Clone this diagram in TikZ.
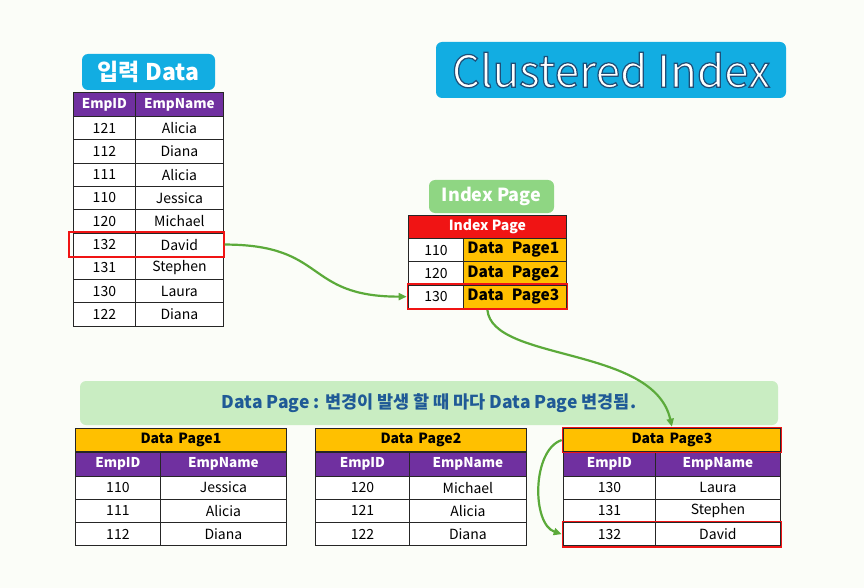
\documentclass[tikz,border=0pt]{standalone}
\usepackage{fontspec}
\setmainfont{Noto Sans CJK KR}
\newfontfamily\outlinefont[FakeBold=2.8]{Noto Sans CJK KR}
\usetikzlibrary{arrows.meta,fit}
\definecolor{cjbg}{HTML}{FBFDF8}
\definecolor{cjcyan}{HTML}{12ADE2}
\definecolor{cjleaf}{HTML}{8FD683}
\definecolor{cjband}{HTML}{C9EDC2}
\definecolor{cjink}{HTML}{1F5A96}
\definecolor{cjpurple}{HTML}{7030A0}
\definecolor{cjgold}{HTML}{FFC000}
\definecolor{cjred}{HTML}{F01414}
\definecolor{cjgreen}{HTML}{5BAA3A}
% white glyphs with a navy stroke round them
\newcommand{\navyline}{\special{pdf:code 0.12 0.31 0.47 RG}}
\tikzset{
  cell/.style={draw=black!85, fill=white, line width=0.8pt, anchor=north west,
    minimum height=23.3pt, inner sep=0pt, font=\fontsize{14}{16}\selectfont},
  headcell/.style={cell, fill=cjpurple, text=white, minimum height=24pt,
    font=\fontsize{13.5}{16}\selectfont\bfseries},
  pagecell/.style={cell, fill=cjgold, font=\fontsize{14}{16}\selectfont\bfseries},
  hilite/.style={draw=cjred, line width=1.6pt, inner sep=0.5pt},
  tagbox/.style={rounded corners=6pt, text=white, inner sep=0pt},
  flow/.style={draw=cjgreen, line width=2.2pt, -{Triangle[length=8pt,width=7pt]}}
}
% one data page table: #1 number, #2 left x, #3 id width, #4 name width, #5 rows
\newcommand{\datapage}[5]{%
  \node[pagecell, minimum width={(#3+#4)*1pt}] (dp#1-title) at (#2,428) {Data\hspace{2pt} Page#1};
  \node[headcell, minimum width=#3pt] (dp#1-h1) at (#2,451.5) {EmpID};
  \node[headcell, minimum width=#4pt] (dp#1-h2) at ({#2+#3},451.5) {EmpName};
  \foreach \id/\nm [count=\i] in {#5} {
    \node[cell, minimum width=#3pt] (dp#1-id-\i) at (#2,{475.5+(\i-1)*23.3}) {\id};
    \node[cell, minimum width=#4pt] (dp#1-nm-\i) at ({#2+#3},{475.5+(\i-1)*23.3}) {\nm};
  }%
}
\begin{document}
\begin{tikzpicture}[x=1pt, y=-1pt]
  \fill[cjbg] (0,0) rectangle (864,588);
  \useasboundingbox (0,0) rectangle (864,588);

  % tags
  \node[tagbox, fill=cjcyan, minimum width=133pt, minimum height=36pt,
    font=\fontsize{23}{25}\selectfont\bfseries] (in-tag) at (148.5,72) {입력 Data};
  \node[tagbox, fill=cjcyan, minimum width=350pt, minimum height=56pt,
    font=\fontsize{44}{48}\selectfont\outlinefont] (ci-tag) at (611,70) {\navyline Clustered Index};
  \node[tagbox, fill=cjleaf, minimum width=125pt, minimum height=33pt,
    font=\fontsize{18}{22}\selectfont\bfseries] (ix-tag) at (491.5,196.5) {Index Page};
  \node[tagbox, fill=cjband, text=cjink, minimum width=698pt, minimum height=44pt,
    font=\fontsize{17.5}{20}\selectfont\bfseries] (band) at (429,403)
    {Data Page : 변경이 발생 할 때 마다 Data Page 변경됨.};

  % input data
  \node[headcell, minimum width=62pt] (in-h1) at (73,92) {EmpID};
  \node[headcell, minimum width=88pt] (in-h2) at (135,92) {EmpName};
  \foreach \id/\nm [count=\i] in {121/Alicia,112/Diana,111/Alicia,110/Jessica,120/Michael,
      132/David,131/Stephen,130/Laura,122/Diana} {
    \node[cell, minimum width=62pt] (in-id-\i) at (73,{116+(\i-1)*23.3}) {\id};
    \node[cell, minimum width=88pt] (in-nm-\i) at (135,{116+(\i-1)*23.3}) {\nm};
  }
  \node[hilite, inner xsep=2pt, xshift=-2pt, fit=(in-id-6)(in-nm-6)] (in-sel) {};

  % index page
  \node[cell, fill=cjred, text=white, minimum width=158pt,
    font=\fontsize{14}{16}\selectfont\bfseries] (ix-head) at (408,215) {Index Page};
  \foreach \k [count=\i] in {110,120,130} {
    \node[cell, minimum width=55pt] (ix-id-\i) at (408,{238+(\i-1)*23.3}) {\k};
    \node[pagecell, text width=95pt, inner xsep=4pt, align=left,
      font=\fontsize{15.5}{17}\selectfont\bfseries] (ix-pg-\i)
      at (463,{238+(\i-1)*23.3}) {Data\hspace{3pt} Page\i};
  }
  \node[hilite, fit=(ix-id-3)(ix-pg-3)] (ix-sel) {};

  % data pages
  \datapage{1}{75}{85}{126}{110/Jessica,111/Alicia,112/Diana}
  \datapage{2}{315}{94}{117}{120/Michael,121/Alicia,122/Diana}
  \datapage{3}{563}{92}{125}{130/Laura,131/Stephen,132/David}
  \node[hilite, fit=(dp3-title)] (dp3-sel-t) {};
  \node[hilite, fit=(dp3-id-3)(dp3-nm-3)] (dp3-sel-r) {};

  % arrows
  \draw[flow] (in-sel.east) to[out=0, in=180, looseness=1.4] (ix-sel.west);
  \draw[flow] (ix-sel.south) .. controls +(5,52) and +(-18,-81) .. (dp3-sel-t.north);
  \draw[flow] (dp3-sel-t.west) .. controls +(-30,10) and +(-30,-10) .. (dp3-sel-r.west);
\end{tikzpicture}
\end{document}
